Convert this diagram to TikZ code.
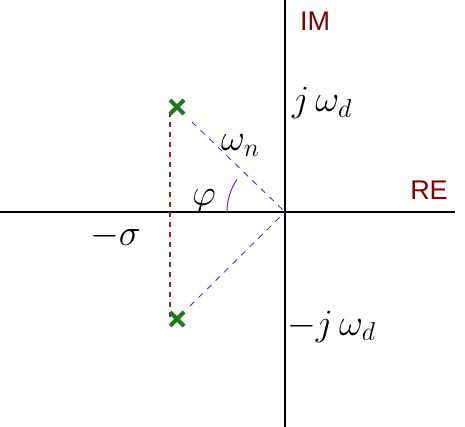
\RequirePackage{fix-cm}
\documentclass[tikz,border=0pt]{standalone}
\usepackage{fontspec}
\newfontfamily\axfont{Liberation Sans}
\definecolor{axlab}{RGB}{128,0,0}
\definecolor{poleg}{RGB}{30,120,30}
\definecolor{reddash}{RGB}{140,40,40}
\definecolor{bluedash}{RGB}{40,40,220}
\definecolor{arcc}{RGB}{150,30,150}
\begin{document}
\begin{tikzpicture}[x=1pt,y=-1pt,
  axis/.style={line width=2.8pt,black},
  polemark/.style={line width=4pt,poleg},
  reddashed/.style={line width=1.4pt,reddash,dash pattern=on 5pt off 5pt},
  bluedashed/.style={line width=0.8pt,bluedash,dash pattern=on 6pt off 6pt},
  axlabel/.style={inner sep=0pt,text=axlab,font=\axfont\fontsize{27}{30}\selectfont},
  mathlabel/.style={inner sep=0pt,anchor=base west,font=\fontsize{37}{40}\selectfont}]
\useasboundingbox (0,0) rectangle (465,427);
\coordinate (O) at (285,212);
\coordinate (L) at (0,212);
\coordinate (R) at (455,212);
\coordinate (T) at (285,0);
\coordinate (B) at (285,427);
\coordinate (P1) at (177,107);
\coordinate (P2) at (177,319);
\coordinate (D1) at (170,112);
\coordinate (D2) at (170,319);
\draw[axis] (L) -- (R);
\draw[axis] (T) -- (B);
\draw[reddashed] (D1) -- (D2);
\draw[bluedashed] ([shift={(15,15)}]P1) -- (O);
\draw[bluedashed] ([shift={(13,-13)}]P2) -- (O);
\draw[arcc,line width=1pt] (227,212) arc[start angle=180,end angle=214,radius=58];
\foreach \p in {P1,P2}{
  \draw[polemark] ([shift={(-7,-7)}]\p) -- ([shift={(7,7)}]\p);
  \draw[polemark] ([shift={(-7,7)}]\p) -- ([shift={(7,-7)}]\p);
}
\node[axlabel] (IM) at (315,21) {IM};
\node[axlabel] (RE) at (429,190) {RE};
\node[mathlabel] (jw) at (292,112) {$j\,\omega_d$};
\node[mathlabel] (mjw) at (287,335) {$-j\,\omega_d$};
\node[mathlabel] (wn) at (221,151) {$\omega_n$};
\node[mathlabel] (phi) at (192,206) {$\varphi$};
\node[mathlabel] (sig) at (90,246) {$-\sigma$};
\end{tikzpicture}
\end{document}
